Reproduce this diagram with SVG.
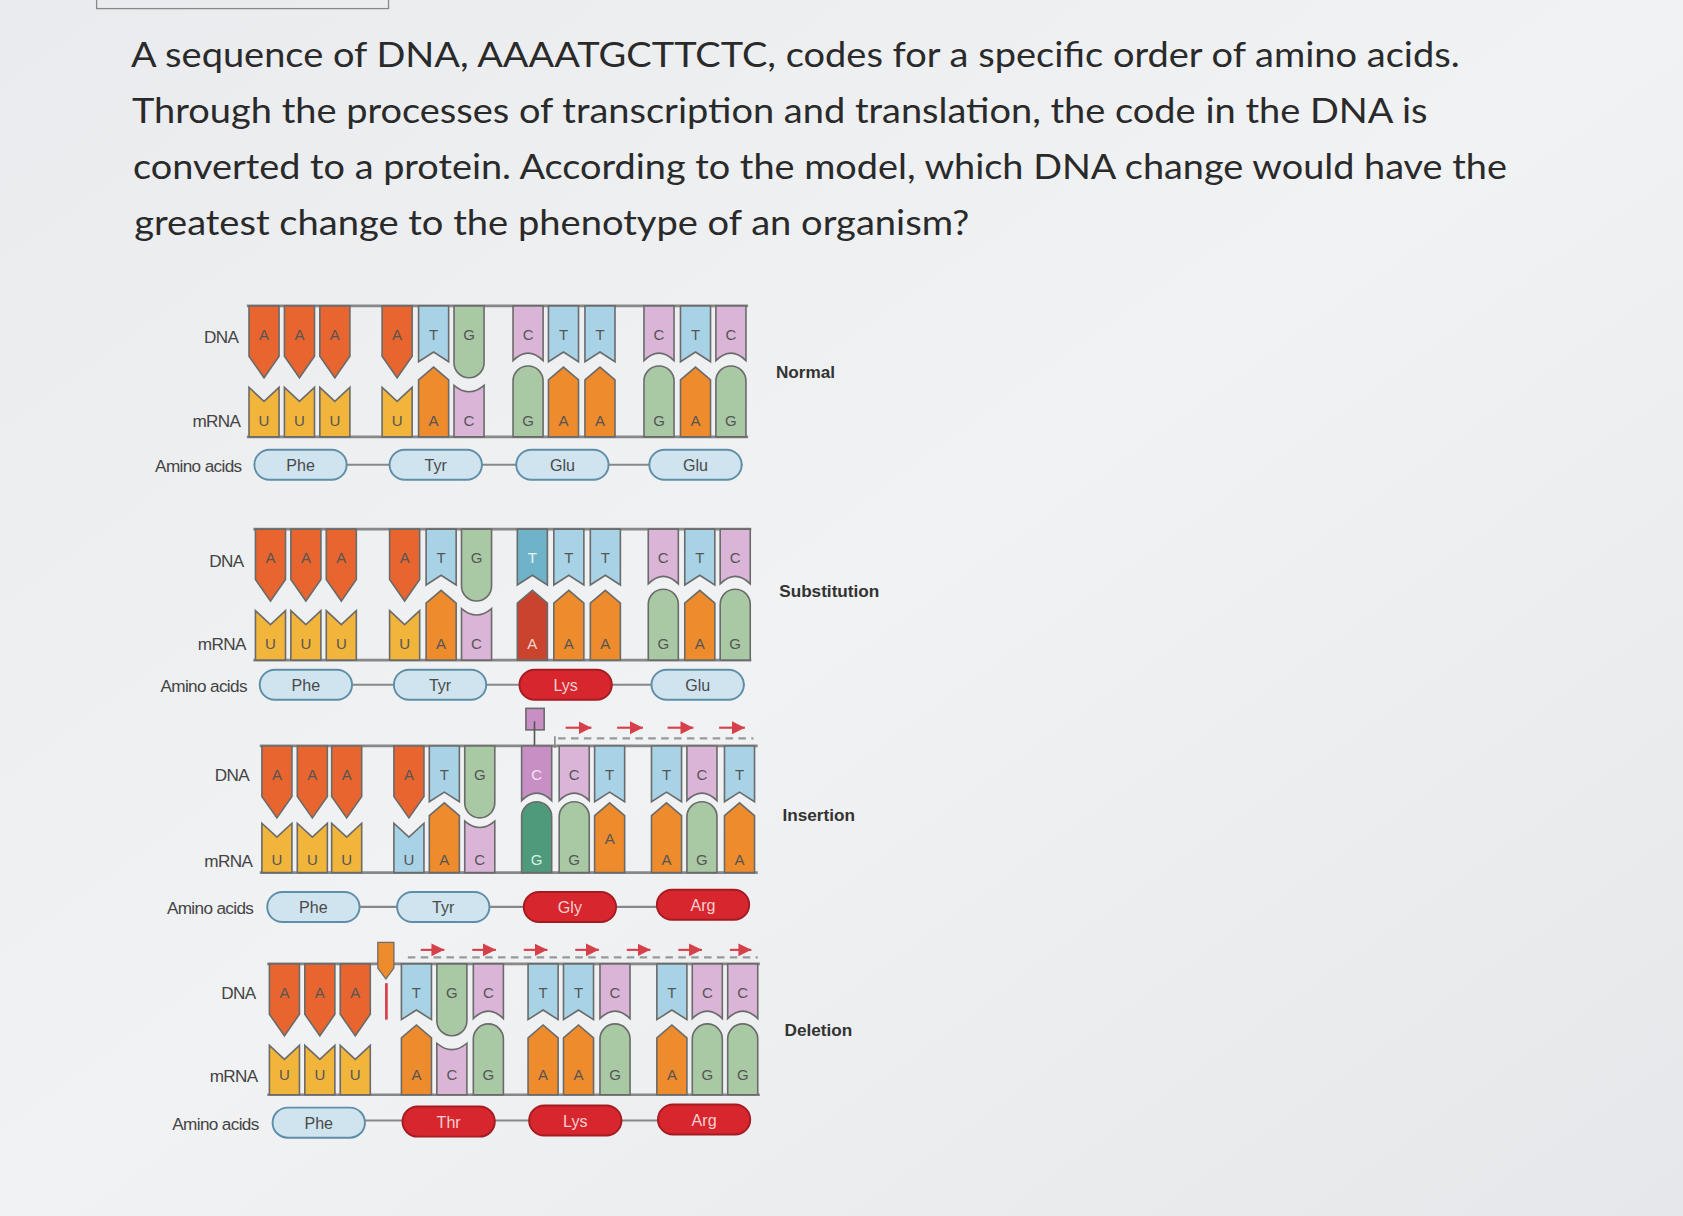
<svg xmlns="http://www.w3.org/2000/svg" xmlns:xlink="http://www.w3.org/1999/xlink" width="1683" height="1216" viewBox="0 0 1683 1216">
<defs>
<linearGradient id="bg" x1="0" y1="0" x2="1" y2="1"><stop offset="0" stop-color="#e9ebee"/><stop offset="0.5" stop-color="#f1f2f3"/><stop offset="1" stop-color="#e6e7ea"/></linearGradient>
<path id="dA" d="M0,0H28V47L14,67L0,47Z"/>
<path id="dT" d="M0,0H28V52L14,43L0,52Z"/>
<path id="dG" d="M0,0H28V53A14,14 0 0 1 0,53Z"/>
<path id="dC" d="M0,0H28V51Q14,37 0,51Z"/>
<path id="mU" d="M0,0V-46L14,-33L28,-46V0Z"/>
<path id="mA" d="M0,0V-53L14,-65L28,-53V0Z"/>
<path id="mG" d="M0,0V-52A14,14 0 0 1 28,-52V0Z"/>
<path id="mC" d="M0,0V-48Q14,-36 28,-48V0Z"/>
<marker id="ar" markerWidth="8" markerHeight="8" refX="6" refY="3" orient="auto"><path d="M0,0L6,3L0,6Z" fill="#d6404a"/></marker>
</defs>
<style>
.t{font-family:Lato,"Liberation Sans",sans-serif;font-size:32px;fill:#2a2a2a}
.lb{font-family:"Liberation Sans",sans-serif;font-size:16px;fill:#444;letter-spacing:-0.6px;text-anchor:end}
.rl{font-family:"Liberation Sans",sans-serif;font-size:16px;font-weight:bold;fill:#333}
.bl{font-family:"Liberation Sans",sans-serif;font-size:14px;fill:#555;text-anchor:middle}
.A{fill:#e8652f}.mA{fill:#ee8b2c}.T{fill:#a8d3e6}.G{fill:#a9c9a5}.C{fill:#dbb5d8}.U{fill:#f1b53c}
.A,.mA,.T,.G,.C,.U,.Td,.Ad,.Cd,.Gd,.Ub{stroke:#6b6b6b;stroke-width:1.5}
.Td{fill:#6fb3c9}.Ad{fill:#c9432e}.Cd{fill:#c88fc4}.Gd{fill:#4f9a7a}.Ub{fill:#a8d3e6}
.bb{stroke:#888;stroke-width:2.5;fill:none}
.pn{fill:#cfe4ef;stroke:#5f8ea8;stroke-width:1.8}
.pr{fill:#d7262e;stroke:#a41c22;stroke-width:1.8}
.pt{font-family:"Liberation Sans",sans-serif;font-size:15px;text-anchor:middle;fill:#4a4a4a}
.ptw{font-family:"Liberation Sans",sans-serif;font-size:15px;text-anchor:middle;fill:#f6d0d0}
.cl{stroke:#888;stroke-width:2}
.ra{stroke:#d6404a;stroke-width:2;marker-end:url(#ar)}
.ds{stroke:#999;stroke-width:2;stroke-dasharray:7 5}
</style>
<rect width="1683" height="1216" fill="url(#bg)"/>
<g transform="scale(1.0733)">
<rect x="90" y="-6" width="272" height="14" fill="none" stroke="#888" stroke-width="1.2"/>
<g id="title">
<text class="t" x="122" y="62" textLength="1238" lengthAdjust="spacingAndGlyphs">A sequence of DNA, AAAATGCTTCTC, codes for a specific order of amino acids.</text>
<text class="t" x="123" y="115" textLength="1207" lengthAdjust="spacingAndGlyphs">Through the processes of transcription and translation, the code in the DNA is</text>
<text class="t" x="124" y="167" textLength="1280" lengthAdjust="spacingAndGlyphs">converted to a protein. According to the model, which DNA change would have the</text>
<text class="t" x="125" y="219" textLength="778" lengthAdjust="spacingAndGlyphs">greatest change to the phenotype of an organism?</text>
</g>

<g id="normal">
<text class="lb" x="222" y="320">DNA</text><text class="lb" x="224" y="398">mRNA</text><text class="lb" x="225" y="440">Amino acids</text>
<text class="rl" x="723" y="352">Normal</text>
<line class="bb" x1="230" y1="285" x2="697" y2="285"/><line class="bb" x1="230" y1="407" x2="697" y2="407"/>
<use href="#dA" x="232" y="285" class="A"/><use href="#dA" x="265" y="285" class="A"/><use href="#dA" x="298" y="285" class="A"/>
<use href="#dA" x="356" y="285" class="A"/><use href="#dT" x="390" y="285" class="T"/><use href="#dG" x="423" y="285" class="G"/>
<use href="#dC" x="478" y="285" class="C"/><use href="#dT" x="511" y="285" class="T"/><use href="#dT" x="545" y="285" class="T"/>
<use href="#dC" x="600" y="285" class="C"/><use href="#dT" x="634" y="285" class="T"/><use href="#dC" x="667" y="285" class="C"/>
<use href="#mU" x="232" y="407" class="U"/><use href="#mU" x="265" y="407" class="U"/><use href="#mU" x="298" y="407" class="U"/>
<use href="#mU" x="356" y="407" class="U"/><use href="#mA" x="390" y="407" class="mA"/><use href="#mC" x="423" y="407" class="C"/>
<use href="#mG" x="478" y="407" class="G"/><use href="#mA" x="511" y="407" class="mA"/><use href="#mA" x="545" y="407" class="mA"/>
<use href="#mG" x="600" y="407" class="G"/><use href="#mA" x="634" y="407" class="mA"/><use href="#mG" x="667" y="407" class="G"/>
<g class="bl">
<text x="246" y="317">A</text><text x="279" y="317">A</text><text x="312" y="317">A</text><text x="370" y="317">A</text><text x="404" y="317">T</text><text x="437" y="317">G</text><text x="492" y="317">C</text><text x="525" y="317">T</text><text x="559" y="317">T</text><text x="614" y="317">C</text><text x="648" y="317">T</text><text x="681" y="317">C</text>
<text x="246" y="397">U</text><text x="279" y="397">U</text><text x="312" y="397">U</text><text x="370" y="397">U</text><text x="404" y="397">A</text><text x="437" y="397">C</text><text x="492" y="397">G</text><text x="525" y="397">A</text><text x="559" y="397">A</text><text x="614" y="397">G</text><text x="648" y="397">A</text><text x="681" y="397">G</text>
</g>
<line class="cl" x1="280" y1="433" x2="692" y2="433"/>
<rect class="pn" x="237" y="419" width="86" height="28" rx="14"/><text class="pt" x="280" y="439">Phe</text>
<rect class="pn" x="363" y="419" width="86" height="28" rx="14"/><text class="pt" x="406" y="439">Tyr</text>
<rect class="pn" x="481" y="419" width="86" height="28" rx="14"/><text class="pt" x="524" y="439">Glu</text>
<rect class="pn" x="605" y="419" width="86" height="28" rx="14"/><text class="pt" x="648" y="439">Glu</text>
</g>

<g id="substitution">
<text class="lb" x="227" y="528">DNA</text><text class="lb" x="229" y="606">mRNA</text><text class="lb" x="230" y="645">Amino acids</text>
<text class="rl" x="726" y="556">Substitution</text>
<line class="bb" x1="236" y1="493" x2="700" y2="493"/><line class="bb" x1="236" y1="615" x2="700" y2="615"/>
<use href="#dA" x="238" y="493" class="A"/><use href="#dA" x="271" y="493" class="A"/><use href="#dA" x="304" y="493" class="A"/>
<use href="#dA" x="363" y="493" class="A"/><use href="#dT" x="397" y="493" class="T"/><use href="#dG" x="430" y="493" class="G"/>
<use href="#dT" x="482" y="493" class="Td"/><use href="#dT" x="516" y="493" class="T"/><use href="#dT" x="550" y="493" class="T"/>
<use href="#dC" x="604" y="493" class="C"/><use href="#dT" x="638" y="493" class="T"/><use href="#dC" x="671" y="493" class="C"/>
<use href="#mU" x="238" y="615" class="U"/><use href="#mU" x="271" y="615" class="U"/><use href="#mU" x="304" y="615" class="U"/>
<use href="#mU" x="363" y="615" class="U"/><use href="#mA" x="397" y="615" class="mA"/><use href="#mC" x="430" y="615" class="C"/>
<use href="#mA" x="482" y="615" class="Ad"/><use href="#mA" x="516" y="615" class="mA"/><use href="#mA" x="550" y="615" class="mA"/>
<use href="#mG" x="604" y="615" class="G"/><use href="#mA" x="638" y="615" class="mA"/><use href="#mG" x="671" y="615" class="G"/>
<g class="bl">
<text x="252" y="525">A</text><text x="285" y="525">A</text><text x="318" y="525">A</text><text x="377" y="525">A</text><text x="411" y="525">T</text><text x="444" y="525">G</text><text x="496" y="525" fill="#e8f3f8">T</text><text x="530" y="525">T</text><text x="564" y="525">T</text><text x="618" y="525">C</text><text x="652" y="525">T</text><text x="685" y="525">C</text>
<text x="252" y="605">U</text><text x="285" y="605">U</text><text x="318" y="605">U</text><text x="377" y="605">U</text><text x="411" y="605">A</text><text x="444" y="605">C</text><text x="496" y="605" fill="#f3d3cc">A</text><text x="530" y="605">A</text><text x="564" y="605">A</text><text x="618" y="605">G</text><text x="652" y="605">A</text><text x="685" y="605">G</text>
</g>
<line class="cl" x1="285" y1="638" x2="694" y2="638"/>
<rect class="pn" x="242" y="624" width="86" height="28" rx="14"/><text class="pt" x="285" y="644">Phe</text>
<rect class="pn" x="367" y="624" width="86" height="28" rx="14"/><text class="pt" x="410" y="644">Tyr</text>
<rect class="pr" x="484" y="624" width="86" height="28" rx="14"/><text class="ptw" x="527" y="644">Lys</text>
<rect class="pn" x="607" y="624" width="86" height="28" rx="14"/><text class="pt" x="650" y="644">Glu</text>
</g>

<g id="insertion">
<text class="lb" x="232" y="728">DNA</text><text class="lb" x="235" y="808">mRNA</text><text class="lb" x="236" y="852">Amino acids</text>
<text class="rl" x="729" y="765">Insertion</text>
<line class="bb" x1="242" y1="695" x2="706" y2="695"/><line class="bb" x1="242" y1="813" x2="706" y2="813"/>
<rect x="490" y="660" width="17" height="20" class="Cd"/><line x1="498" y1="672" x2="498" y2="700" stroke="#555" stroke-width="1.5"/>
<line x1="517" y1="686" x2="517" y2="697" stroke="#888" stroke-width="1.5"/>
<line class="ds" x1="520" y1="688" x2="702" y2="688"/>
<line class="ra" x1="527" y1="678" x2="551" y2="678"/><line class="ra" x1="575" y1="678" x2="599" y2="678"/><line class="ra" x1="622" y1="678" x2="646" y2="678"/><line class="ra" x1="670" y1="678" x2="694" y2="678"/>
<use href="#dA" x="244" y="695" class="A"/><use href="#dA" x="277" y="695" class="A"/><use href="#dA" x="309" y="695" class="A"/>
<use href="#dA" x="367" y="695" class="A"/><use href="#dT" x="400" y="695" class="T"/><use href="#dG" x="433" y="695" class="G"/>
<use href="#dC" x="486" y="695" class="Cd"/><use href="#dC" x="521" y="695" class="C"/><use href="#dT" x="554" y="695" class="T"/>
<use href="#dT" x="607" y="695" class="T"/><use href="#dC" x="640" y="695" class="C"/><use href="#dT" x="675" y="695" class="T"/>
<use href="#mU" x="244" y="813" class="U"/><use href="#mU" x="277" y="813" class="U"/><use href="#mU" x="309" y="813" class="U"/>
<use href="#mU" x="367" y="813" class="Ub"/><use href="#mA" x="400" y="813" class="mA"/><use href="#mC" x="433" y="813" class="C"/>
<use href="#mG" x="486" y="813" class="Gd"/><use href="#mG" x="521" y="813" class="G"/><use href="#mA" x="554" y="813" class="mA"/>
<use href="#mA" x="607" y="813" class="mA"/><use href="#mG" x="640" y="813" class="G"/><use href="#mA" x="675" y="813" class="mA"/>
<g class="bl">
<text x="258" y="727">A</text><text x="291" y="727">A</text><text x="323" y="727">A</text><text x="381" y="727">A</text><text x="414" y="727">T</text><text x="447" y="727">G</text><text x="500" y="727" fill="#f4e4f2">C</text><text x="535" y="727">C</text><text x="568" y="727">T</text><text x="621" y="727">T</text><text x="654" y="727">C</text><text x="689" y="727">T</text>
<text x="258" y="806">U</text><text x="291" y="806">U</text><text x="323" y="806">U</text><text x="381" y="806">U</text><text x="414" y="806">A</text><text x="447" y="806">C</text><text x="500" y="806" fill="#d8efe4">G</text><text x="535" y="806">G</text><text x="568" y="786">A</text><text x="621" y="806">A</text><text x="654" y="806">G</text><text x="689" y="806">A</text>
</g>
<line class="cl" x1="292" y1="845" x2="698" y2="845"/>
<rect class="pn" x="249" y="831" width="86" height="28" rx="14"/><text class="pt" x="292" y="851">Phe</text>
<rect class="pn" x="370" y="831" width="86" height="28" rx="14"/><text class="pt" x="413" y="851">Tyr</text>
<rect class="pr" x="488" y="831" width="86" height="28" rx="14"/><text class="ptw" x="531" y="851">Gly</text>
<rect class="pr" x="612" y="829" width="86" height="28" rx="14"/><text class="ptw" x="655" y="849">Arg</text>
</g>

<g id="deletion">
<text class="lb" x="238" y="931">DNA</text><text class="lb" x="240" y="1008">mRNA</text><text class="lb" x="241" y="1053">Amino acids</text>
<text class="rl" x="731" y="965">Deletion</text>
<line class="bb" x1="249" y1="898" x2="708" y2="898"/><line class="bb" x1="249" y1="1020" x2="708" y2="1020"/>
<path d="M352,878H367V902L359.5,912L352,902Z" fill="#ee8b2c" stroke="#6b6b6b" stroke-width="1.2"/>
<line x1="360" y1="916" x2="360" y2="950" stroke="#d6404a" stroke-width="2.5"/>
<line class="ds" x1="380" y1="892" x2="706" y2="892"/>
<line class="ra" x1="392" y1="885" x2="414" y2="885"/><line class="ra" x1="440" y1="885" x2="462" y2="885"/><line class="ra" x1="488" y1="885" x2="510" y2="885"/><line class="ra" x1="536" y1="885" x2="558" y2="885"/><line class="ra" x1="584" y1="885" x2="606" y2="885"/><line class="ra" x1="632" y1="885" x2="654" y2="885"/><line class="ra" x1="680" y1="885" x2="700" y2="885"/>
<use href="#dA" x="251" y="898" class="A"/><use href="#dA" x="284" y="898" class="A"/><use href="#dA" x="317" y="898" class="A"/>
<use href="#dT" x="374" y="898" class="T"/><use href="#dG" x="407" y="898" class="G"/><use href="#dC" x="441" y="898" class="C"/>
<use href="#dT" x="492" y="898" class="T"/><use href="#dT" x="525" y="898" class="T"/><use href="#dC" x="559" y="898" class="C"/>
<use href="#dT" x="612" y="898" class="T"/><use href="#dC" x="645" y="898" class="C"/><use href="#dC" x="678" y="898" class="C"/>
<use href="#mU" x="251" y="1020" class="U"/><use href="#mU" x="284" y="1020" class="U"/><use href="#mU" x="317" y="1020" class="U"/>
<use href="#mA" x="374" y="1020" class="mA"/><use href="#mC" x="407" y="1020" class="C"/><use href="#mG" x="441" y="1020" class="G"/>
<use href="#mA" x="492" y="1020" class="mA"/><use href="#mA" x="525" y="1020" class="mA"/><use href="#mG" x="559" y="1020" class="G"/>
<use href="#mA" x="612" y="1020" class="mA"/><use href="#mG" x="645" y="1020" class="G"/><use href="#mG" x="678" y="1020" class="G"/>
<g class="bl">
<text x="265" y="930">A</text><text x="298" y="930">A</text><text x="331" y="930">A</text><text x="388" y="930">T</text><text x="421" y="930">G</text><text x="455" y="930">C</text><text x="506" y="930">T</text><text x="539" y="930">T</text><text x="573" y="930">C</text><text x="626" y="930">T</text><text x="659" y="930">C</text><text x="692" y="930">C</text>
<text x="265" y="1006">U</text><text x="298" y="1006">U</text><text x="331" y="1006">U</text><text x="388" y="1006">A</text><text x="421" y="1006">C</text><text x="455" y="1006">G</text><text x="506" y="1006">A</text><text x="539" y="1006">A</text><text x="573" y="1006">G</text><text x="626" y="1006">A</text><text x="659" y="1006">G</text><text x="692" y="1006">G</text>
</g>
<line class="cl" x1="297" y1="1044" x2="699" y2="1044"/>
<rect class="pn" x="254" y="1032" width="86" height="28" rx="14"/><text class="pt" x="297" y="1052">Phe</text>
<rect class="pr" x="375" y="1031" width="86" height="28" rx="14"/><text class="ptw" x="418" y="1051">Thr</text>
<rect class="pr" x="493" y="1030" width="86" height="28" rx="14"/><text class="ptw" x="536" y="1050">Lys</text>
<rect class="pr" x="613" y="1029" width="86" height="28" rx="14"/><text class="ptw" x="656" y="1049">Arg</text>
</g>
</g>
</svg>
